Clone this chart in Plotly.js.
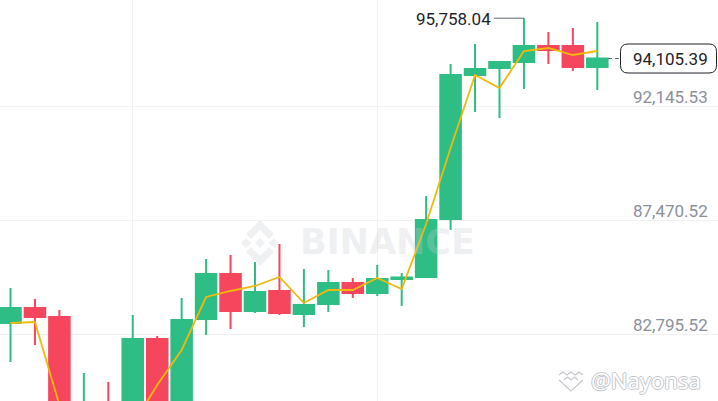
<!DOCTYPE html>
<html>
<head>
<meta charset="utf-8">
<script src="https://cdn.plot.ly/plotly-3.0.1.min.js"></script>
<style>
  html, body { margin: 0; padding: 0; background: #ffffff; }
  #chart { width: 718px; height: 401px; }
</style>
</head>
<body>
<div id="chart"></div>
<script>
// ---- data ----
const candleIndex = [0,1,2,3,4,5,6,7,8,9,10,11,12,13,14,15,16,17,18,19,20,21,22,23,24];
const openPrices  = [83261, 83876, 83507, 78300, 79600, 79000, 82605, 79800, 83425, 85270, 83753, 84573, 83630, 84040, 84901, 84491, 85065, 85147, 87525, 93429, 93716, 93962, 94618, 94618, 93757];
const highPrices  = [84696, 84245, 83794, 81211, 80842, 83589, 82728, 84286, 85885, 86049, 85762, 86500, 85475, 85434, 85106, 85639, 85311, 88468, 93880, 94700, 94000, 95758.04, 95192, 95356, 95602];
const lowPrices   = [81662, 82359, 78200, 77800, 78000, 78700, 79000, 79500, 82769, 83015, 83671, 83589, 83097, 83712, 84286, 84368, 83958, 85106, 87074, 91912, 91666, 92855, 93880, 93593, 92814];
const closePrices = [83876, 83507, 78600, 79400, 78900, 82605, 79300, 83384, 85270, 83753, 84532, 83671, 83999, 84901, 84491, 85065, 85126, 87484, 93429, 93675, 93962, 94618, 94454, 93757, 94105.39];
const maValues    = [83261, 83302, 79899, 79000, 78800, 79079, 80719, 82154, 84327, 84573, 84778, 85147, 84081, 84614, 84614, 85106, 84655, 87320, 90436, 93429, 92896, 94413, 94536, 94249, 94413];
const priceTicks  = [82795.52, 87470.52, 92145.53];
const tickLabels  = ["82,795.52", "87,470.52", "92,145.53"];
const gridCandles = [5, 15];
const highLabel   = "95,758.04";
const lastLabel   = "94,105.39";
const watermark   = "BINANCE";
const handle      = "@Nayonsa";

// ---- styles ----
const GREEN = '#2ebd85';
const RED = '#f6465d';
const GRID = '#eff1f3';
const lastIdx = candleIndex.length - 1;
const highIdx = highPrices.indexOf(Math.max(...highPrices));

const traces = [
  {
    type: 'candlestick',
    x: candleIndex,
    open: openPrices, high: highPrices, low: lowPrices, close: closePrices,
    increasing: { line: { color: GREEN, width: 2 }, fillcolor: GREEN },
    decreasing: { line: { color: RED, width: 2 }, fillcolor: RED },
    whiskerwidth: 0,
    hoverinfo: 'skip',
    showlegend: false
  },
  {
    type: 'scatter', mode: 'lines',
    x: candleIndex, y: maValues,
    line: { color: '#f0b90b', width: 1.8 },
    hoverinfo: 'skip', showlegend: false
  }
];

const annotations = [];
priceTicks.forEach((v, i) => {
  annotations.push({
    xref: 'paper', x: 1, xanchor: 'right', xshift: -8,
    yref: 'y', y: v, yanchor: 'bottom', yshift: -3,
    text: tickLabels[i], showarrow: false,
    font: { family: 'Roboto', size: 17, color: '#8a9099' }
  });
});
annotations.push({
  xref: 'x', x: candleIndex[highIdx], xanchor: 'right', xshift: -31,
  yref: 'y', y: highPrices[highIdx], yanchor: 'middle', yshift: -1,
  text: highLabel, showarrow: false,
  font: { family: 'Roboto', size: 17, color: '#1e2329' }
});
annotations.push({
  xref: 'paper', x: 1, xanchor: 'right', xshift: -8,
  yref: 'y', y: closePrices[lastIdx], yanchor: 'middle',
  text: lastLabel, showarrow: false,
  font: { family: 'Roboto', size: 17, color: '#1e2329' }
});
annotations.push({
  xref: 'paper', x: 298/718, xanchor: 'left',
  yref: 'paper', y: 1 - 242/401, yanchor: 'middle',
  text: '<b>' + watermark + '</b>', showarrow: false,
  font: { family: 'DejaVu Sans', size: 35, color: 'rgba(200,205,212,0.3)' }
});
annotations.push({
  xref: 'paper', x: 589/718, xanchor: 'left',
  yref: 'paper', y: 1 - 380/401, yanchor: 'middle',
  text: handle, showarrow: false,
  font: { family: 'Noto Sans', size: 22, color: '#ffffff',
          shadow: '1px 0 0 #c3c7cc, -1px 0 0 #c3c7cc, 0 1px 0 #c3c7cc, 0 -1px 0 #c3c7cc' }
});

const shapes = [
  // Binance logo watermark
  {
    type: 'path', layer: 'below',
    xref: 'paper', yref: 'paper', xsizemode: 'pixel', ysizemode: 'pixel',
    xanchor: 260/718, yanchor: 1 - 243/401,
    path: 'M 0,23 L 14,9 L 9,4 L 0,13 L -9,4 L -14,9 Z ' +
          'M 0,-23 L 14,-9 L 9,-4 L 0,-13 L -9,-4 L -14,-9 Z ' +
          'M -19,0 L -14,5 L -9,0 L -14,-5 Z ' +
          'M 19,0 L 14,5 L 9,0 L 14,-5 Z ' +
          'M 0,5 L 5,0 L 0,-5 L -5,0 Z',
    fillcolor: 'rgba(200,205,212,0.3)', line: { width: 0 }
  },
  // handle icon
  {
    type: 'path', layer: 'above',
    xref: 'paper', yref: 'paper', xsizemode: 'pixel', ysizemode: 'pixel',
    xanchor: 571/718, yanchor: 1 - 381/401,
    path: 'M -12,6 L -8,9 L -4,6 L 0,9 L 4,6 L 8,9 L 12,6 M -7,1 L -3.5,4 L 0,1 L 3.5,4 L 7,1 M -12,1 L 0,-10 L 12,1',
    line: { color: '#c3c7cc', width: 1.2 }
  },
  // high marker leader line
  {
    type: 'line', layer: 'above',
    xref: 'x', yref: 'y', xsizemode: 'pixel',
    xanchor: candleIndex[highIdx], x0: -30, x1: 0,
    y0: highPrices[highIdx], y1: highPrices[highIdx],
    line: { color: '#5e6673', width: 1 }
  },
  // dashed connector to current price
  {
    type: 'line', layer: 'above',
    xref: 'paper', yref: 'y', xsizemode: 'pixel',
    xanchor: 1, x0: -110, x1: -98,
    y0: closePrices[lastIdx], y1: closePrices[lastIdx],
    line: { color: '#5e6673', width: 1, dash: '4px,3px' }
  },
  // current price rounded box
  {
    type: 'path', layer: 'above',
    xref: 'paper', yref: 'y', xsizemode: 'pixel', ysizemode: 'pixel',
    xanchor: 1, yanchor: closePrices[lastIdx],
    path: 'M -90,-14.5 L -9,-14.5 Q -1.5,-14.5 -1.5,-7 L -1.5,7 Q -1.5,14.5 -9,14.5 L -90,14.5 Q -97.5,14.5 -97.5,7 L -97.5,-7 Q -97.5,-14.5 -90,-14.5 Z',
    fillcolor: '#ffffff', line: { color: '#1e2329', width: 1 }
  }
];

const layout = {
  width: 718, height: 401,
  margin: { l: 0, r: 0, t: 0, b: 0 },
  paper_bgcolor: '#ffffff', plot_bgcolor: '#ffffff',
  showlegend: false,
  boxgap: 0.16,
  boxgroupgap: 0,
  xaxis: {
    range: [-0.4294, 28.937],
    tickvals: gridCandles, showticklabels: false, ticks: '',
    showgrid: true, gridcolor: GRID, gridwidth: 1,
    zeroline: false, showline: false,
    rangeslider: { visible: false }, fixedrange: true
  },
  yaxis: {
    range: [80062.8, 96503.8],
    tickvals: priceTicks, showticklabels: false, ticks: '',
    showgrid: true, gridcolor: GRID, gridwidth: 1,
    zeroline: false, showline: false, fixedrange: true
  },
  annotations: annotations,
  shapes: shapes,
  hovermode: false
};

Plotly.newPlot('chart', traces, layout, { displayModeBar: false, staticPlot: true });
</script>
</body>
</html>
